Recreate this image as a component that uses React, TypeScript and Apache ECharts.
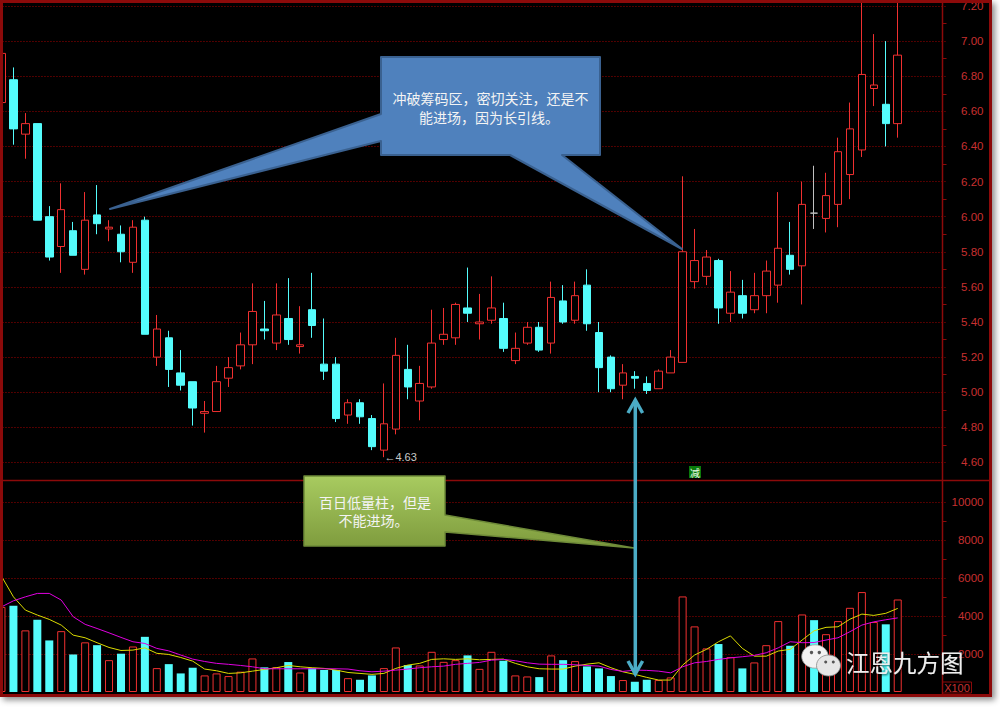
import React, { useEffect, useRef } from 'react';
import * as echarts from 'echarts';

// ---------- data ----------
const opens = [6.65, 6.78, 6.47, 6.53, 6.00, 5.83, 5.92, 5.70, 6.01, 5.93, 5.90, 5.74, 5.98, 5.20, 5.31, 5.11, 5.06, 4.88, 4.89, 5.08, 5.15, 5.27, 5.36, 5.28, 5.42, 5.26, 5.47, 5.16, 5.16, 4.87, 4.94, 4.85, 4.67, 4.79, 5.13, 4.95, 5.03, 5.30, 5.31, 5.48, 5.39, 5.41, 5.42, 5.18, 5.28, 5.37, 5.28, 5.52, 5.41, 5.61, 5.34, 5.20, 5.04, 5.09, 5.05, 5.02, 5.11, 5.17, 5.63, 5.66, 5.75, 5.45, 5.55, 5.47, 5.55, 5.61, 5.78, 5.72, 6.02, 5.99, 6.07, 6.24, 6.38, 6.73, 6.64, 6.53];
const closes = [6.93, 6.50, 6.53, 5.98, 5.77, 6.04, 5.78, 5.98, 5.96, 5.94, 5.80, 5.94, 5.33, 5.36, 5.13, 5.04, 4.91, 4.89, 5.06, 5.14, 5.27, 5.46, 5.35, 5.44, 5.30, 5.27, 5.38, 5.12, 4.85, 4.94, 4.86, 4.69, 4.82, 5.21, 5.03, 5.05, 5.28, 5.33, 5.50, 5.45, 5.40, 5.48, 5.25, 5.25, 5.37, 5.24, 5.54, 5.40, 5.55, 5.39, 5.14, 5.02, 5.11, 5.08, 5.01, 5.12, 5.20, 5.80, 5.75, 5.77, 5.48, 5.57, 5.45, 5.55, 5.69, 5.82, 5.70, 6.07, 6.02, 6.12, 6.37, 6.50, 6.81, 6.75, 6.53, 6.92];
const lows = [6.65, 6.41, 6.33, 5.98, 5.75, 5.68, 5.78, 5.67, 5.90, 5.86, 5.74, 5.68, 5.33, 5.15, 5.03, 5.01, 4.81, 4.77, 4.89, 5.03, 5.13, 5.16, 5.30, 5.24, 5.27, 5.22, 5.31, 5.07, 4.83, 4.82, 4.82, 4.67, 4.63, 4.76, 4.96, 4.84, 5.02, 5.27, 5.27, 5.40, 5.30, 5.39, 5.23, 5.16, 5.27, 5.23, 5.22, 5.39, 5.39, 5.35, 5.00, 5.00, 4.96, 5.02, 4.99, 5.02, 5.11, 5.17, 5.59, 5.61, 5.39, 5.40, 5.42, 5.45, 5.45, 5.51, 5.67, 5.50, 5.93, 5.91, 5.94, 6.10, 6.34, 6.63, 6.40, 6.45];
const highs = [6.93, 6.85, 6.59, 6.53, 6.06, 6.19, 5.97, 6.14, 6.18, 5.98, 5.95, 5.98, 6.00, 5.44, 5.35, 5.24, 5.06, 4.95, 5.15, 5.20, 5.34, 5.62, 5.52, 5.62, 5.65, 5.49, 5.68, 5.42, 5.20, 4.96, 4.96, 4.87, 5.05, 5.31, 5.27, 5.15, 5.47, 5.48, 5.51, 5.71, 5.56, 5.66, 5.51, 5.34, 5.40, 5.40, 5.63, 5.61, 5.63, 5.70, 5.40, 5.21, 5.16, 5.12, 5.09, 5.13, 5.24, 6.23, 5.93, 5.81, 5.76, 5.69, 5.64, 5.68, 5.75, 6.14, 5.97, 6.20, 6.29, 6.25, 6.45, 6.65, 7.22, 7.04, 7.00, 7.22];
const volumes = [4490, 4550, 3250, 3810, 2720, 3210, 1980, 2620, 2470, 1680, 2020, 2400, 2910, 1260, 1470, 980, 1280, 875, 980, 840, 1070, 1770, 1300, 1310, 1580, 1030, 1260, 1160, 1160, 730, 645, 875, 1260, 2350, 1420, 1400, 2120, 1590, 1680, 1930, 1220, 2120, 1650, 875, 820, 785, 1930, 1680, 1630, 1350, 1245, 840, 630, 540, 645, 630, 770, 5040, 3460, 2300, 2530, 1840, 1245, 1560, 2470, 3740, 2440, 4090, 3790, 3050, 3740, 4440, 5270, 3690, 3570, 4880];
const volMa5 = [6110, 5020, 4320, 4060, 3830, 3530, 3000, 2860, 2600, 2350, 2190, 2210, 2330, 2040, 1980, 1820, 1630, 1210, 1120, 980, 1010, 1100, 1190, 1280, 1400, 1330, 1280, 1245, 1155, 1030, 980, 930, 980, 1245, 1420, 1510, 1720, 1750, 1720, 1750, 1700, 1720, 1735, 1510, 1330, 1225, 1210, 1210, 1365, 1470, 1540, 1280, 1065, 930, 770, 630, 630, 1420, 1950, 2250, 2650, 2960, 2300, 1890, 1890, 2160, 2250, 2740, 3230, 3410, 3440, 3840, 4110, 4040, 4150, 4410];
const volMa10 = [4490, 4810, 5020, 5200, 5200, 4850, 3970, 3570, 3350, 3120, 2880, 2650, 2560, 2300, 2170, 1950, 1735, 1610, 1510, 1460, 1400, 1330, 1225, 1225, 1225, 1225, 1225, 1225, 1225, 1210, 1120, 1065, 1100, 1155, 1210, 1280, 1330, 1365, 1460, 1510, 1560, 1680, 1720, 1650, 1540, 1470, 1460, 1460, 1435, 1400, 1365, 1190, 1085, 1155, 1140, 1100, 1010, 1330, 1540, 1610, 1720, 1800, 1860, 1930, 2070, 2330, 2650, 2600, 2610, 2740, 2860, 3180, 3530, 3700, 3810, 3910];
const days = Array.from({ length: 80 }, (_, i) => 'D' + (i + 1));
const priceTicks = [4.6, 4.8, 5.0, 5.2, 5.4, 5.6, 5.8, 6.0, 6.2, 6.4, 6.6, 6.8, 7.0, 7.2];
const priceMinorTicks = [4.7, 4.9, 5.1, 5.3, 5.5, 5.7, 5.9, 6.1, 6.3, 6.5, 6.7, 6.9, 7.1];
const volumeTicks = [2000, 4000, 6000, 8000, 10000];
const volumeMinorTicks = [1000, 3000, 5000, 7000, 9000];

// ---------- styles ----------
const RED = '#F03030';
const CYAN = '#54FCFC';
const FLAT = '#C0C0C0';
const AXIS_RED = '#C83030';
const GRID_RED = '#A00000';
const FRAME = '#8C0A0A';
const LABEL_FONT = 'Liberation Sans';
const CJK = 'Noto Sans CJK SC';

const isUp = (i: number) =>
  closes[i] > opens[i] || (closes[i] === opens[i] && i > 0 && closes[i] >= closes[i - 1]);

const candleData = opens.map((o, i) => {
  const item: any = { value: [o, closes[i], lows[i], highs[i]] };
  if (o === closes[i]) {
    item.itemStyle = { color: FLAT, color0: FLAT, borderColor: FLAT, borderColor0: FLAT };
  }
  return item;
});

const volumeData = volumes.map((v, i) => ({
  value: v,
  itemStyle: isUp(i)
    ? { color: '#000000', borderColor: RED, borderWidth: 1 }
    : { color: CYAN, borderColor: CYAN, borderWidth: 0 },
}));

const lowIdx = lows.indexOf(Math.min(...lows));

// category points (boundaryGap false): first point at x=1.475, step 11.95 px
const GRID_LEFT = 1.475;
const GRID_WIDTH = 79 * 11.95;
const AXIS_OFFSET = 942.5 - (GRID_LEFT + GRID_WIDTH);
const DOT_STYLE = { color: GRID_RED, type: [1, 2], dashOffset: 2.475, width: 1 };

function buildOption(): any {
  return {
    animation: false,
    backgroundColor: 'transparent',
    grid: [
      { left: GRID_LEFT, top: 0.8, width: GRID_WIDTH, height: 479.2 },
      { left: GRID_LEFT, top: 481, width: GRID_WIDTH, height: 211 },
    ],
    xAxis: [
      { type: 'category', gridIndex: 0, data: days, boundaryGap: false, show: false },
      { type: 'category', gridIndex: 1, data: days, boundaryGap: false, show: false },
    ],
    yAxis: [
      {
        type: 'value', gridIndex: 0, position: 'right', offset: AXIS_OFFSET, min: 4.5, max: 7.2,
        axisLine: { show: false },
        axisTick: { show: false, customValues: priceTicks },
        axisLabel: {
          customValues: priceTicks, formatter: (v: number) => v.toFixed(2),
          color: AXIS_RED, fontSize: 11.5, fontFamily: LABEL_FONT, align: 'right', margin: 41,
        },
        splitLine: { show: true, lineStyle: DOT_STYLE },
      },
      {
        type: 'value', gridIndex: 0, position: 'right', offset: AXIS_OFFSET, min: 4.5, max: 7.2,
        axisLine: { show: false },
        axisTick: { show: true, customValues: priceMinorTicks, length: 4, lineStyle: { color: FRAME } },
        axisLabel: { show: false },
        splitLine: { show: false },
      },
      {
        type: 'value', gridIndex: 1, position: 'right', offset: AXIS_OFFSET, min: 0, max: 11130,
        axisLine: { show: false },
        axisTick: { show: false, customValues: volumeTicks },
        axisLabel: {
          customValues: volumeTicks, formatter: (v: number) => String(Math.round(v)),
          color: AXIS_RED, fontSize: 11.5, fontFamily: LABEL_FONT,
          align: 'right', margin: 41,
        },
        splitLine: { show: true, lineStyle: DOT_STYLE },
      },
      {
        type: 'value', gridIndex: 1, position: 'right', offset: AXIS_OFFSET, min: 0, max: 11130,
        axisLine: { show: false },
        axisTick: { show: true, customValues: volumeMinorTicks, length: 4, lineStyle: { color: FRAME } },
        axisLabel: { show: false },
        splitLine: { show: false },
      },
    ],
    series: [
      {
        type: 'candlestick', xAxisIndex: 0, yAxisIndex: 0, barWidth: 8, clip: false,
        data: candleData,
        itemStyle: { color: '#000000', color0: CYAN, borderColor: RED, borderColor0: CYAN, borderWidth: 1 },
        markPoint: {
          symbol: 'rect', symbolSize: 1, itemStyle: { color: 'rgba(0,0,0,0)' },
          label: {
            show: true, position: 'right', distance: 0,
            formatter: '\u2190' + lows[lowIdx].toFixed(2),
            color: '#C8C8C8', fontSize: 11, fontFamily: LABEL_FONT,
          },
          data: [{ coord: [days[lowIdx], lows[lowIdx]] }],
        },
      },
      {
        type: 'bar', xAxisIndex: 1, yAxisIndex: 2, barWidth: 8, clip: false, data: volumeData,
      },
      {
        type: 'line', xAxisIndex: 1, yAxisIndex: 2, data: volMa5, symbol: 'none', clip: false,
        lineStyle: { color: '#DCDC00', width: 1 }, itemStyle: { color: '#DCDC00' }, z: 5,
      },
      {
        type: 'line', xAxisIndex: 1, yAxisIndex: 2, data: volMa10, symbol: 'none', clip: false,
        lineStyle: { color: '#E000E0', width: 1 }, itemStyle: { color: '#E000E0' }, z: 5,
      },
    ],
    graphic: [
      // frame
      { type: 'rect', z: 100, silent: true, shape: { x: 1.5, y: 1.5, width: 989, height: 694 }, style: { fill: 'none', stroke: FRAME, lineWidth: 3 } },
      { type: 'line', z: 100, silent: true, shape: { x1: 0, y1: 480.5, x2: 990, y2: 480.5 }, style: { stroke: FRAME, lineWidth: 1.5 } },
      { type: 'line', z: 100, silent: true, shape: { x1: 942.5, y1: 0, x2: 942.5, y2: 695 }, style: { stroke: FRAME, lineWidth: 1.5 } },
      { type: 'rect', z: 100, silent: true, shape: { x: 942.5, y: 682, width: 29, height: 11 }, style: { fill: 'none', stroke: FRAME, lineWidth: 1 } },
      { type: 'text', z: 101, silent: true, x: 957, y: 688, style: { text: 'X100', fill: AXIS_RED, fontSize: 11, fontFamily: LABEL_FONT, textAlign: 'center', textVerticalAlign: 'middle' } },
      // 减 marker
      { type: 'rect', z: 100, silent: true, shape: { x: 689, y: 466, width: 12, height: 12 }, style: { fill: '#0A7A0A' } },
      { type: 'text', z: 101, silent: true, x: 695, y: 472, style: { text: '减', fill: '#E8FFE8', fontSize: 10, fontFamily: CJK, textAlign: 'center', textVerticalAlign: 'middle' } },
      // blue callout
      {
        type: 'polygon', z: 110, silent: true,
        shape: { points: [[381, 57], [600, 57], [600, 155], [562, 155], [682, 249], [510, 155], [381, 155], [381, 141], [110, 209], [381, 114]] },
        style: { fill: '#4F81BD', stroke: '#3A6190', lineWidth: 2, lineJoin: 'round' },
      },
      { type: 'text', z: 111, silent: true, x: 490.5, y: 97.5, style: { text: '冲破筹码区，密切关注，还是不', fill: '#F4F4F4', fontSize: 14, fontFamily: CJK, textAlign: 'center', textVerticalAlign: 'middle' } },
      { type: 'text', z: 111, silent: true, x: 489, y: 117, style: { text: '能进场，因为长引线。', fill: '#F4F4F4', fontSize: 14, fontFamily: CJK, textAlign: 'center', textVerticalAlign: 'middle' } },
      // green callout
      {
        type: 'polygon', z: 110, silent: true,
        shape: { points: [[304, 476], [445, 476], [445, 515], [634, 548], [445, 532], [445, 546], [304, 546]] },
        style: {
          fill: new echarts.graphic.LinearGradient(0, 0, 0, 1, [
            { offset: 0, color: '#A8CB60' },
            { offset: 1, color: '#7E9B3D' },
          ]),
          stroke: '#6E8A38', lineWidth: 1.5, lineJoin: 'round',
        },
      },
      { type: 'text', z: 111, silent: true, x: 375, y: 501.5, style: { text: '百日低量柱，但是', fill: '#F4F4F4', fontSize: 14, fontFamily: CJK, textAlign: 'center', textVerticalAlign: 'middle' } },
      { type: 'text', z: 111, silent: true, x: 373.5, y: 519.5, style: { text: '不能进场。', fill: '#F4F4F4', fontSize: 14, fontFamily: CJK, textAlign: 'center', textVerticalAlign: 'middle' } },
      // double arrow
      { type: 'line', z: 112, silent: true, shape: { x1: 635.3, y1: 400, x2: 635.3, y2: 674 }, style: { stroke: '#4BACC6', lineWidth: 3.5 } },
      { type: 'polyline', z: 112, silent: true, shape: { points: [[628, 413], [635.3, 400], [642.6, 413]] }, style: { stroke: '#4BACC6', lineWidth: 3.5, fill: 'none', lineJoin: 'miter' } },
      { type: 'polyline', z: 112, silent: true, shape: { points: [[628, 661], [635.3, 674], [642.6, 661]] }, style: { stroke: '#4BACC6', lineWidth: 3.5, fill: 'none', lineJoin: 'miter' } },
      // watermark
      { type: 'ellipse', z: 120, silent: true, shape: { cx: 815, cy: 656.5, rx: 13.3, ry: 11.7 }, style: { fill: '#F2F2F2', stroke: '#9A9A9A', lineWidth: 0.8 } },
      { type: 'ellipse', z: 121, silent: true, shape: { cx: 828.5, cy: 665.5, rx: 12, ry: 10.5 }, style: { fill: '#E6E6E6', stroke: '#8A8A8A', lineWidth: 0.8 } },
      { type: 'circle', z: 122, silent: true, shape: { cx: 811.5, cy: 652.5, r: 1.7 }, style: { fill: '#555555' } },
      { type: 'circle', z: 122, silent: true, shape: { cx: 819.3, cy: 652.5, r: 1.7 }, style: { fill: '#555555' } },
      { type: 'circle', z: 122, silent: true, shape: { cx: 825.7, cy: 662, r: 1.5 }, style: { fill: '#555555' } },
      { type: 'circle', z: 122, silent: true, shape: { cx: 833.3, cy: 662, r: 1.5 }, style: { fill: '#555555' } },
      {
        type: 'text', z: 122, silent: true, x: 846, y: 662,
        style: {
          text: '江恩九方图', fill: '#EEEEEE', fontSize: 23.5, fontFamily: CJK,
          textAlign: 'left', textVerticalAlign: 'middle',
          textShadowColor: 'rgba(0,0,0,0.7)', textShadowBlur: 2, textShadowOffsetX: 1, textShadowOffsetY: 1,
        },
      },
    ],
  };
}

export default function App() {
  const ref = useRef<HTMLDivElement>(null);
  useEffect(() => {
    document.body.style.margin = '0';
    const chart = echarts.init(ref.current as HTMLDivElement, undefined, { renderer: 'svg' });
    chart.setOption(buildOption());
    return () => chart.dispose();
  }, []);
  return (
    <div style={{ position: 'absolute', left: 0, top: 0, width: 1000, height: 707, background: '#FFFFFF', overflow: 'hidden' }}>
      <div style={{ position: 'absolute', left: 0, top: 0, width: 992, height: 697, background: '#000000', boxShadow: '3px 3px 6px rgba(0,0,0,0.45)' }} />
      <div ref={ref} style={{ position: 'absolute', left: 0, top: 0, width: 1000, height: 707 }} />
    </div>
  );
}
